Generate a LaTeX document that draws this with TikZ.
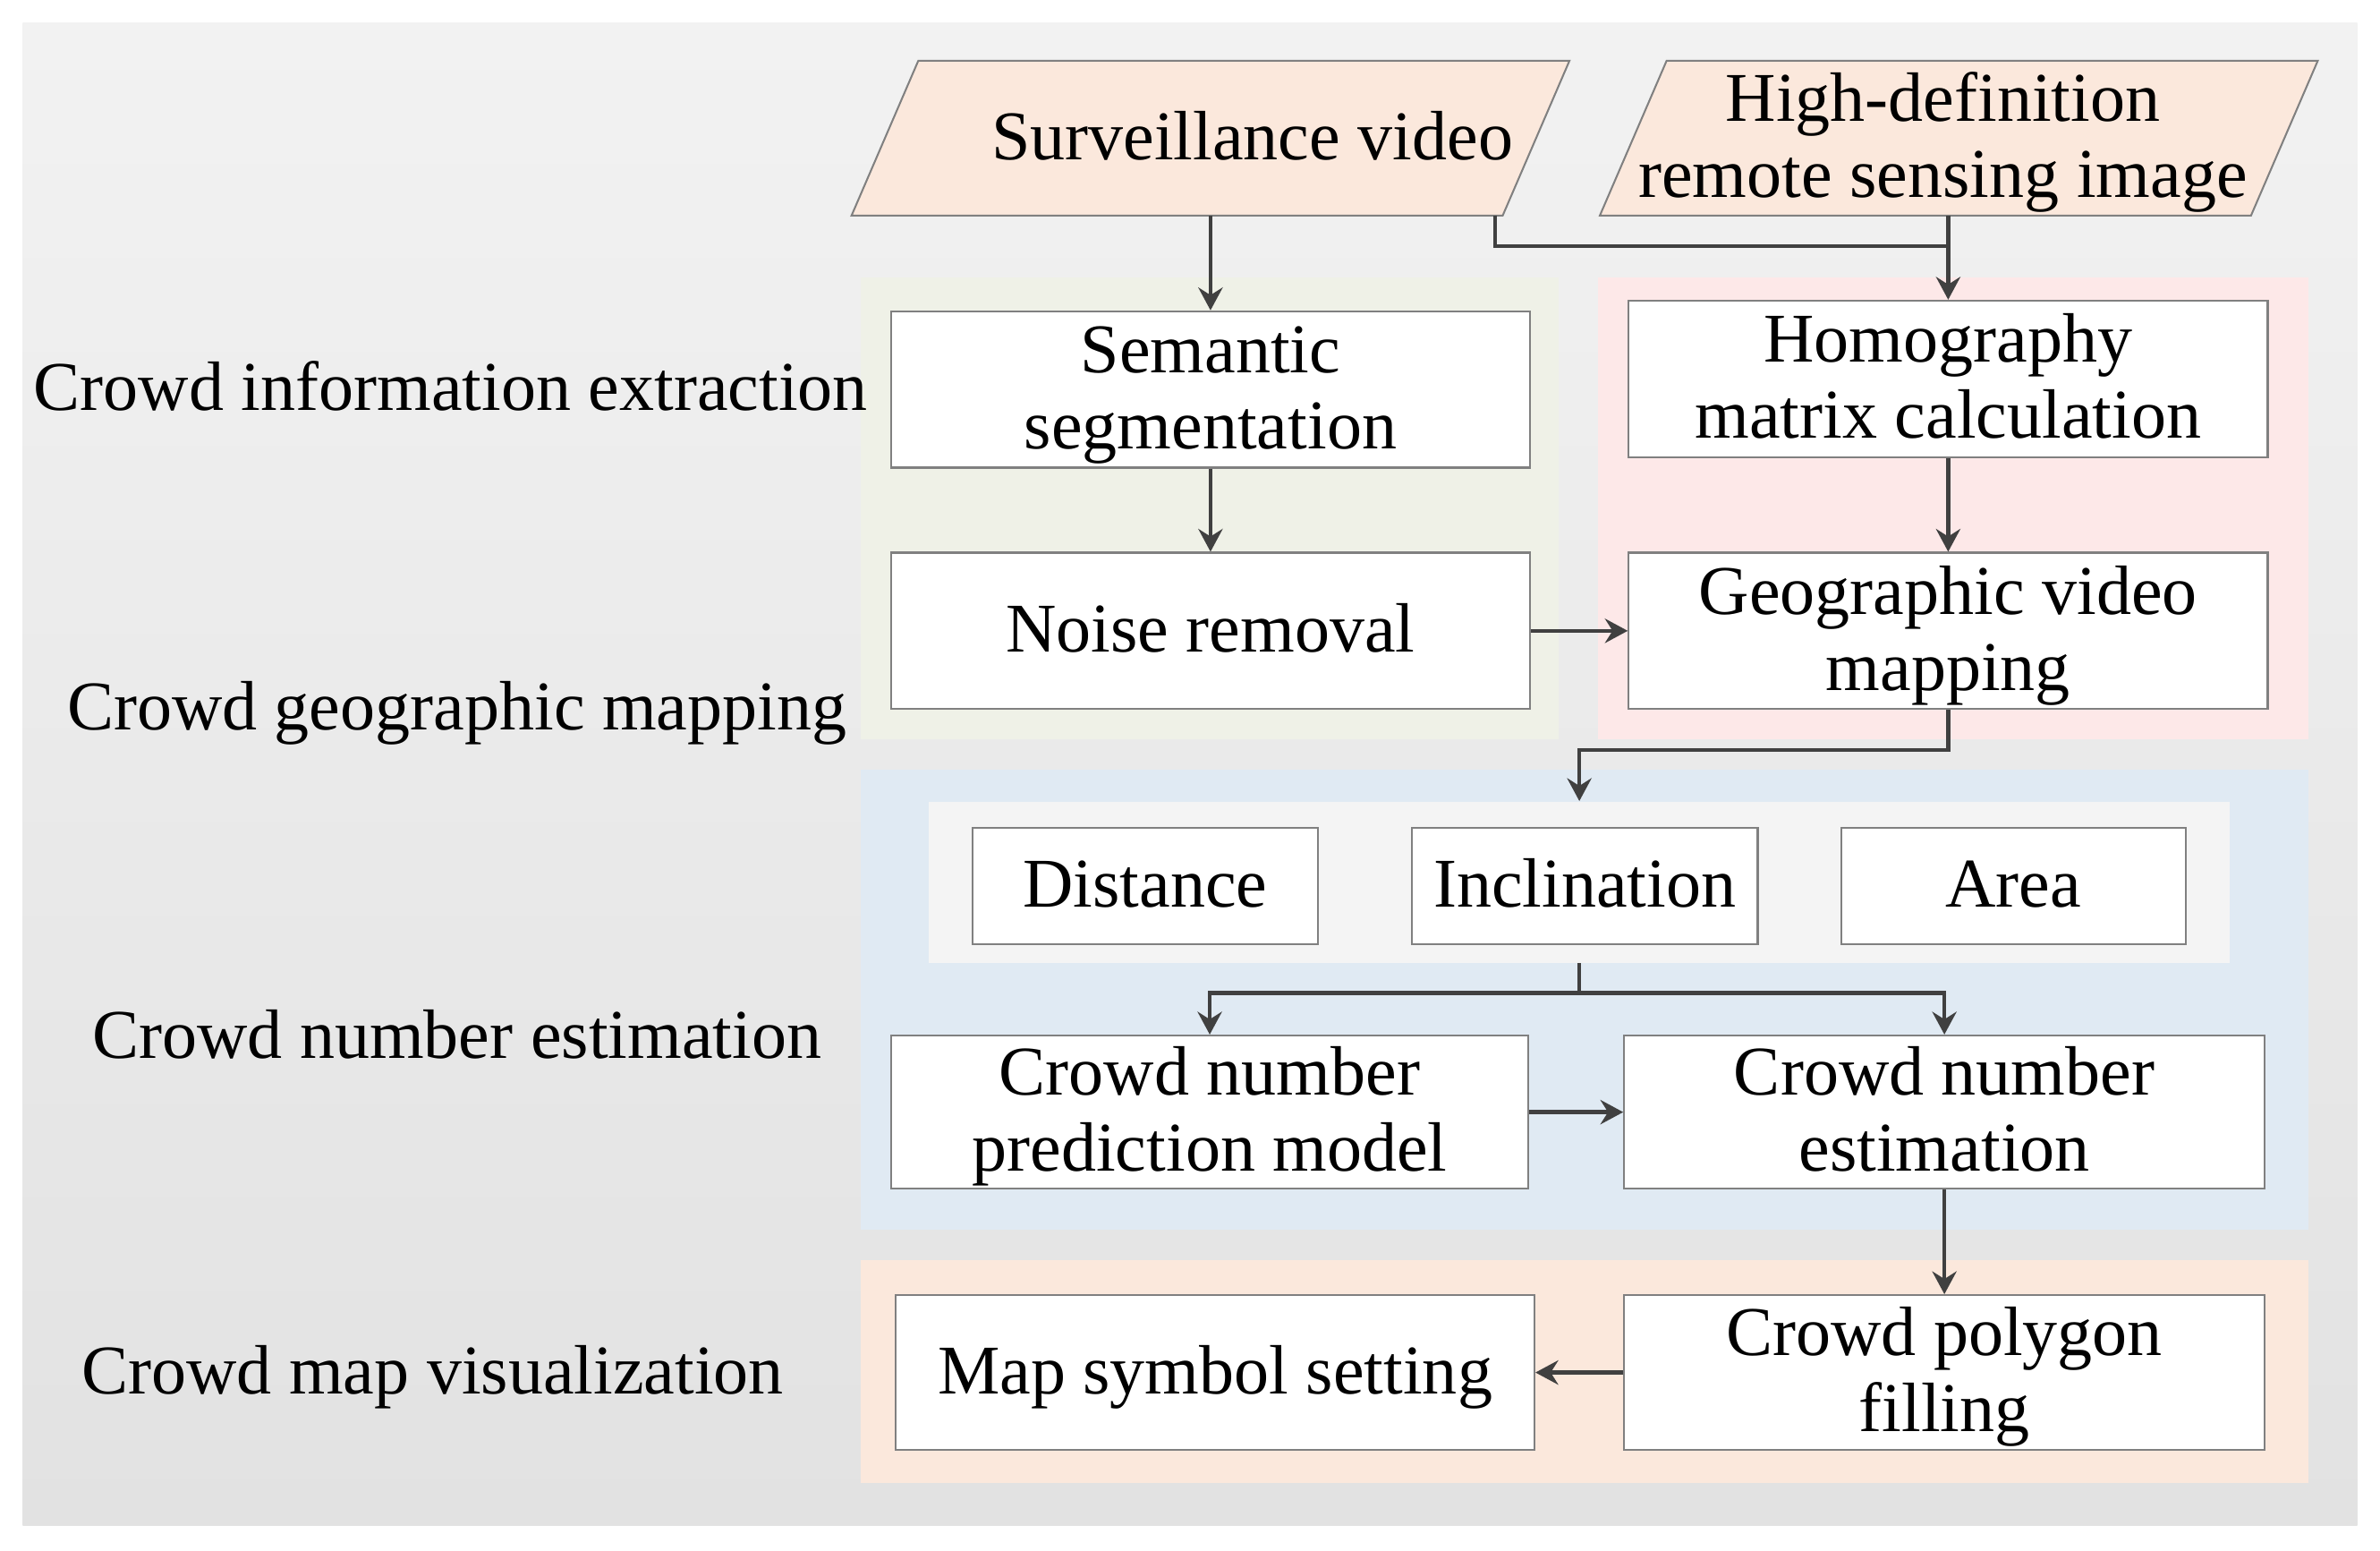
\documentclass[tikz,border=0pt]{standalone}
\usepackage{fontspec}
\setmainfont{Liberation Serif}
\usetikzlibrary{arrows.meta}
\definecolor{bgtop}{HTML}{F2F2F2}
\definecolor{bgbot}{HTML}{E2E2E2}
\definecolor{peach}{HTML}{FBE8DC}
\definecolor{greenp}{HTML}{EFF1E7}
\definecolor{pinkp}{HTML}{FDE8E8}
\definecolor{bluep}{HTML}{E0EAF3}
\definecolor{innerg}{HTML}{F4F4F4}
\definecolor{arrowc}{HTML}{404040}
\definecolor{boxc}{HTML}{808080}
\newcommand\sqz[1]{\begin{tabular}{@{}c@{}}#1\end{tabular}}
\newcommand\bx[1]{\raisebox{-2pt}[\height][\depth]{\begin{tabular}{@{}c@{}}#1\end{tabular}}}
\tikzset{
  txt/.style={inner sep=0pt, font=\fontsize{23}{25}\selectfont, text=black},
  box/.style={txt, draw=boxc, line width=0.6pt, fill=white, minimum width=210.5pt, minimum height=51.5pt},
  sbox/.style={txt, draw=boxc, line width=0.6pt, fill=white, minimum width=113.5pt, minimum height=38.5pt},
  para/.style={draw=boxc, line width=0.6pt, fill=peach},
  ln/.style={draw=arrowc, line width=1.3pt},
  arr/.style={ln, -{Stealth[length=7.5pt,width=8pt,inset=2.5pt]}}
}
\begin{document}
\begin{tikzpicture}[x=0.5pt,y=-0.5pt]
\useasboundingbox (0,0) rectangle (1568,1021);
\shade[top color=bgtop, bottom color=bgbot] (15,15) rectangle (1553,1005);
% panels
\fill[greenp] (567,183) rectangle (1027,487);
\fill[pinkp] (1053,183) rectangle (1521,487);
\fill[bluep] (567,507) rectangle (1521,810);
\fill[peach] (567,830) rectangle (1521,977);
\node[inner sep=0pt, fill=innerg, minimum width=428.5pt, minimum height=53pt] (feat) at (1040.5,581) {};
% inputs
\draw[para] (561,142) -- (605,40) -- (1034,40) -- (990,142) -- cycle;
\draw[para] (1054,142) -- (1098,40) -- (1527,40) -- (1483,142) -- cycle;
\node[txt] (sv) at (825,95) {\sqz{Surveillance video}};
\node[txt] (hd) at (1280,95) {\sqz{High-definition\\remote sensing image}};
\coordinate (svb) at (797.5,142);
\coordinate (svr) at (985,142);
\coordinate (hdb) at (1283.5,142);
\coordinate (j0) at (1283.5,162);
% boxes
\node[box] (seg) at (797.5,256.5) {\bx{Semantic\\segmentation}};
\node[box] (noise) at (797.5,415.5) {\bx{Noise removal}};
\node[box] (homo) at (1283.5,249.5) {\bx{Homography\\matrix calculation}};
\node[box] (geo) at (1283.5,415.5) {\bx{Geographic video\\mapping}};
\node[sbox] (dist) at (754.5,583.5) {\bx{Distance}};
\node[sbox, minimum width=114pt] (incl) at (1044,583.5) {\bx{Inclination}};
\node[sbox] (area) at (1326.5,583.5) {\bx{Area}};
\node[box, minimum width=210pt, minimum height=50.5pt] (pred) at (797,732.5) {\bx{Crowd number\\prediction model}};
\node[box, minimum width=211pt, minimum height=50.5pt] (est) at (1281,732.5) {\bx{Crowd number\\estimation}};
\node[box, minimum height=51pt] (map) at (800.5,904) {\bx{Map symbol setting}};
\node[box, minimum width=211pt, minimum height=51pt] (poly) at (1281,904) {\bx{Crowd polygon\\filling}};
% left labels
\node[txt] (l1) at (297,260) {\sqz{Crowd information extraction}};
\node[txt] (l2) at (301,471) {\sqz{Crowd geographic mapping}};
\node[txt] (l3) at (301,687) {\sqz{Crowd number estimation}};
\node[txt] (l4) at (285,908) {\sqz{Crowd map visualization}};
% connectors
\coordinate (j1) at (1283.5,494);
\coordinate (sp) at (1040.5,654);
\draw[arr] (svb) -- (seg.north);
\draw[ln] (svr) |- (j0);
\draw[arr] (hdb) -- (homo.north);
\draw[arr] (seg.south) -- (noise.north);
\draw[arr] (homo.south) -- (geo.north);
\draw[arr] (noise.east) -- (geo.west);
\draw[arr] (geo.south) -- (j1) -| (feat.north);
\draw[ln] (feat.south) -- (sp);
\draw[arr] (sp) -| (pred.north);
\draw[arr] (sp) -| (est.north);
\draw[arr] (pred.east) -- (est.west);
\draw[arr] (est.south) -- (poly.north);
\draw[arr] (poly.west) -- (map.east);
\end{tikzpicture}
\end{document}
